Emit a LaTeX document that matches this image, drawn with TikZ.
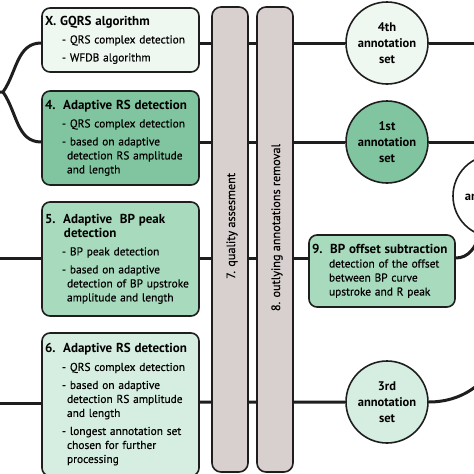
\documentclass[tikz,border=0pt]{standalone}
\usepackage{fontspec}
\setmainfont{PT Sans}[UprightFeatures={FakeBold=0.35}]
\usetikzlibrary{backgrounds}

\definecolor{greendark}{HTML}{80C59F}
\definecolor{greenmid}{HTML}{A8DABD}
\definecolor{greenlight}{HTML}{D5EEE1}
\definecolor{greenpale}{HTML}{EFF7F1}
\definecolor{pillargray}{HTML}{D8D0CE}
\definecolor{edge}{HTML}{1E1E1E}

\newcommand{\dashitem}{\hspace*{17pt}-\ }
\newcommand{\dashcont}{\hspace*{22pt}}
\newcommand{\steptitle}[1]{\mbox{\fontsize{13}{15}\selectfont\bfseries #1}}

\begin{document}
\begin{tikzpicture}[x=1pt,y=-1pt,
  stepbox/.style={draw=edge, line width=1.6pt, rounded corners=8pt, text width=151pt,
    inner xsep=3pt, align=left, font=\fontsize{11.4}{14}\selectfont},
  pillar/.style={draw=edge, fill=pillargray, line width=1.6pt, rounded corners=9pt,
    minimum width=36pt, minimum height=465pt, inner sep=0pt},
  pillartxt/.style={rotate=90, font=\fontsize{12.2}{14}\selectfont},
  annset/.style={circle, draw=edge, line width=1.6pt, minimum size=82pt, inner sep=0pt,
    align=center, font=\fontsize{12.5}{16}\selectfont\bfseries},
  conn/.style={draw=edge, line width=3pt}]
\useasboundingbox (0,0) rectangle (474,474);

% processing steps
\node[stepbox, fill=greenpale, minimum height=64pt] (gqrs) at (120.5,40) {\steptitle{X. GQRS algorithm}\\[4pt]
\dashitem QRS complex detection\\[4pt]
\dashitem WFDB algorithm};
\node[stepbox, fill=greendark, minimum height=94pt] (rs1) at (120.5,138) {\steptitle{4.\ \ Adaptive RS detection}\\[4pt]
\dashitem QRS complex detection\\[4pt]
\dashitem based on adaptive\\
\dashcont detection RS amplitude\\
\dashcont and length};
\node[stepbox, fill=greenmid, minimum height=114pt] (bp) at (120.5,259) {\steptitle{5.\ \ Adaptive\ \ BP peak}\\
\steptitle{\hspace*{19pt}detection}\\[4pt]
\dashitem BP peak detection\\[4pt]
\dashitem based on adaptive\\
\dashcont detection of BP upstroke\\
\dashcont amplitude and length};
\node[stepbox, fill=greenlight, minimum height=143pt] (rs2) at (120.5,404.5) {\steptitle{6.\ \ Adaptive RS detection}\\[4pt]
\dashitem QRS complex detection\\[4pt]
\dashitem based on adaptive\\
\dashcont detection RS amplitude\\
\dashcont and length\\[4pt]
\dashitem longest annotation set\\
\dashcont chosen for further\\
\dashcont processing};

% quality steps
\node[pillar] (qa) at (230,239.5) {};
\node[pillar] (oar) at (275,239.5) {};
\node[pillartxt] (qatxt) at (232,226) {7. quality assesment};
\node[pillartxt] (oartxt) at (277,227.5) {8. outlying annotations removal};

% annotation sets
\node[annset, fill=greenpale] (c4) at (387,43) {4th\\annotation\\set};
\node[annset, fill=greendark] (c1) at (387,142) {1st\\annotation\\set};
\node[annset, fill=greenlight] (c3) at (387,402) {3rd\\annotation\\set};
\node[annset, fill=white] (ann2) at (494,196) {annotation};

\node[stepbox, fill=greenmid, text width=140pt, minimum height=72pt] (bpo) at (382,271) {\steptitle{9.\ \ BP offset subtraction}\\
\hspace*{17pt}detection of the offset\\
\hspace*{17pt}between BP curve\\
\hspace*{17pt}upstroke and R peak};

\coordinate (jn) at (3,92);
\coordinate (in0) at (-6,92);
\coordinate (in5) at (-6,258);
\coordinate (in6) at (-6,403);
\coordinate (out4) at (480,43);
\coordinate (out1) at (480,142);
\coordinate (out3) at (500,345);

\begin{scope}[on background layer]
\draw[conn] (in0) -- (jn) to[out=55,in=180] (gqrs.west |- c4);
\draw[conn] (jn) to[out=-55,in=180] (rs1.west |- c1);
\draw[conn] (in5) -- (bp.west |- in5);
\draw[conn] (in6) -- (rs2.west |- in6);
\draw[conn] (gqrs.east |- c4) -- (c4) -- (out4);
\draw[conn] (rs1.east |- c1) -- (c1) -- (out1);
\draw[conn] (bp.east |- in5) -- (bpo.west |- in5);
\draw[conn] (rs2.east |- c3) -- (c3) to[out=0,in=-100] (out3);
\draw[conn] (bpo.east |- in5) to[out=0,in=-110] (ann2);
\end{scope}
\end{tikzpicture}
\end{document}
